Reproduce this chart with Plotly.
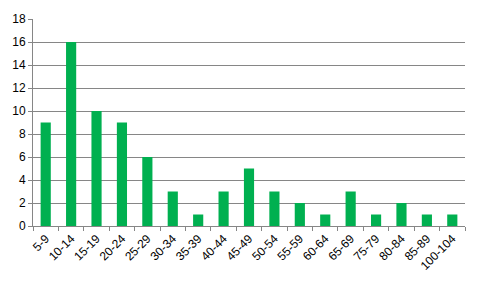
import plotly.graph_objects as go

categories = ["5-9", "10-14", "15-19", "20-24", "25-29", "30-34", "35-39", "40-44",
              "45-49", "50-54", "55-59", "60-64", "65-69", "75-79", "80-84", "85-89", "100-104"]
values = [9, 16, 10, 9, 6, 3, 1, 3, 5, 3, 2, 1, 3, 1, 2, 1, 1]
y_ticks = [0, 2, 4, 6, 8, 10, 12, 14, 16, 18]

grid = "#868686"
fig = go.Figure(go.Bar(x=categories, y=values, marker=dict(color="#00B050", line_width=0)))
fig.update_layout(
    width=479, height=287,
    margin=dict(l=33, r=14, t=14, b=61),
    paper_bgcolor="white", plot_bgcolor="white",
    bargap=0.6, showlegend=False,
    font=dict(family="Liberation Sans, Arial", size=12, color="black"),
)
fig.update_xaxes(type="category", tickangle=-45, ticks="outside", ticklen=4, tickcolor=grid,
                 tickson="boundaries", showline=True, linecolor=grid, linewidth=1,
                 showgrid=False, tickfont=dict(size=12))
fig.update_yaxes(range=[0, 18], tickvals=y_ticks, ticks="outside", ticklen=4, tickcolor=grid,
                 showline=True, linecolor=grid, linewidth=1, showgrid=True, gridcolor=grid,
                 gridwidth=1, zeroline=False, tickfont=dict(size=12))
fig.write_html("out.html")
